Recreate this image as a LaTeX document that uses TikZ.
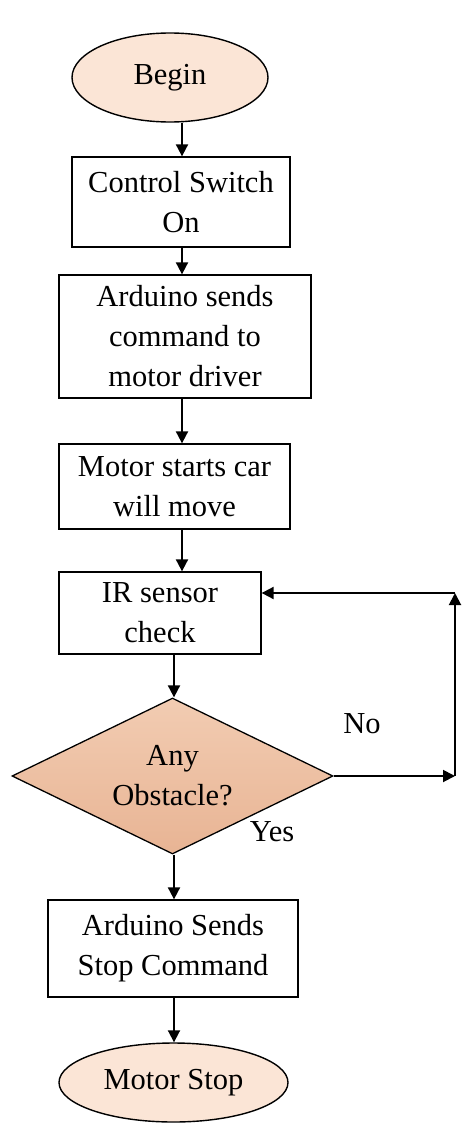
\documentclass[tikz,border=0pt]{standalone}
\usepackage{fontspec}
\setmainfont{Liberation Serif}
\usetikzlibrary{arrows.meta,shapes.geometric}
\definecolor{peach}{RGB}{251,229,214}
\definecolor{tanA}{RGB}{242,204,178}
\definecolor{tanB}{RGB}{232,180,148}
\begin{document}
\begin{tikzpicture}[x=1pt,y=-1pt,
  txt/.style={font=\fontsize{30.5}{40}\selectfont, align=center, inner sep=0pt},
  procbox/.style={txt, draw, line width=1.3pt, rectangle},
  term/.style={txt, draw, line width=1.4pt, ellipse, fill=peach},
  decide/.style={txt, draw, line width=1.3pt, diamond, top color=tanA, bottom color=tanB},
  arr/.style={line width=1.9pt, -{Triangle[length=12pt,width=12pt]}},
  lbl/.style={font=\fontsize{30.5}{40}\selectfont, inner sep=0pt}
]
\useasboundingbox (0,0) rectangle (474,1145);
\fill[white] (0,0) rectangle (474,1145);

\node[term, minimum width=196pt, minimum height=89pt] (begin) at (170,77.5) {Begin};
\node[procbox, minimum width=218pt, minimum height=90pt] (ctl) at (181,202) {Control Switch\\On};
\node[procbox, minimum width=252pt, minimum height=123pt] (ard) at (185,336.5) {Arduino sends\\command to\\motor driver};
\node[procbox, minimum width=231pt, minimum height=85pt] (mot) at (174.5,486.5) {Motor starts car\\will move};
\node[procbox, minimum width=202pt, minimum height=82pt] (ir) at (160,613) {IR sensor\\check};
\node[decide, minimum width=321pt, minimum height=156pt, aspect=2.06] (dec) at (172.5,776) {Any\\Obstacle?};
\node[procbox, minimum width=250pt, minimum height=97pt] (sb) at (173,948.5) {Arduino Sends\\Stop Command};
\node[term, minimum width=229pt, minimum height=79pt] (ms) at (173.5,1082.5) {Motor Stop};

\node[lbl] (no) at (362,724) {No};
\node[lbl] (yes) at (272,832) {Yes};

\coordinate (colA) at (182,0);
\coordinate (colB) at (174,0);
\coordinate (c1) at (455,776);
\coordinate (c2) at (455,593);

\draw[arr] (colA |- begin.south) -- (colA |- ctl.north);
\draw[arr] (colA |- ctl.south) -- (colA |- ard.north);
\draw[arr] (colA |- ard.south) -- (colA |- mot.north);
\draw[arr] (colA |- mot.south) -- (colA |- ir.north);
\draw[arr] (colB |- ir.south) -- (colB |- dec.north);
\draw[arr] (colB |- dec.south) -- (colB |- sb.north);
\draw[arr] (colB |- sb.south) -- (colB |- ms.north);
\draw[arr] (dec.east) -- (c1);
\draw[arr] (c1) -- (c2);
\draw[arr] (c2) -- (c2 -| ir.east);
\end{tikzpicture}
\end{document}
